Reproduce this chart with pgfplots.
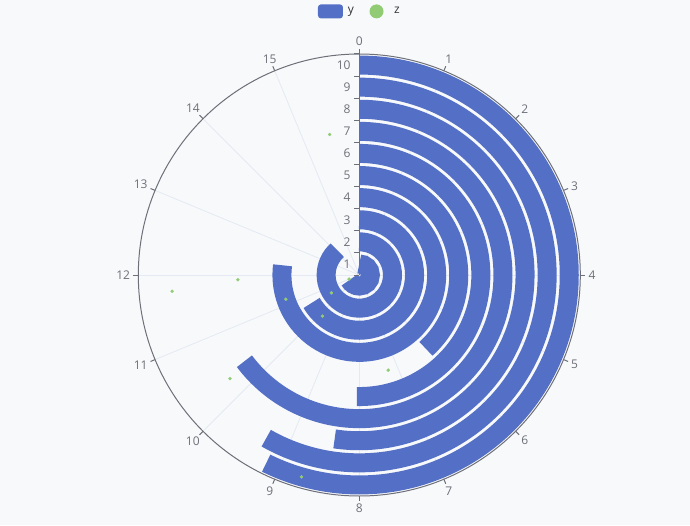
\documentclass[border=0pt]{standalone}
\usepackage{pgfplots}
\pgfplotsset{compat=1.18}
\usepackage{pgfplotstable}
\usepackage{fontspec}
\setmainfont{Open Sans}

\definecolor{barblue}{HTML}{5470C6}
\definecolor{dotgreen}{HTML}{91CC75}
\definecolor{axgray}{HTML}{6E7079}
\definecolor{gridc}{HTML}{E4E9F3}
\definecolor{bg}{HTML}{F8F9FA}
\definecolor{txt}{HTML}{333333}

% ring = radius category (1 innermost), y = end of the bar on the angle axis (0..16), z = scatter value
\pgfplotstableread{
ring y     z
1    10.80 11.05
2    14.15 10.55
3    10.65 9.86
4    12.32 11.19
5    6.13  7.25
6    8.05  11.90
7    10.36 15.47
8    8.38  10.28
9    9.32  11.78
10   9.17  8.71
}\polardata

\begin{document}
\begin{tikzpicture}[font=\fontsize{12}{14}\selectfont]
% 1pt = 1px of the reference, polar centre at the origin
\fill[bg] (-359.3pt,-250pt) rectangle (330.7pt,275pt);
\foreach \k in {0,...,15}{
  \pgfmathsetmacro\ang{90-22.5*\k}
  \pgfmathsetmacro\anc{270-22.5*\k}
  \draw[gridc, line width=0.8pt] (0,0) -- (\ang:221pt);
  \draw[axgray, line width=1pt] (\ang:221pt) -- (\ang:226pt);
  \node[text=axgray, inner sep=0pt, anchor=\anc] at (\ang:229pt) {\k};
}
\draw[axgray, line width=1pt] (0,0) circle[radius=221pt];

\begin{axis}[
  at={(0,0)}, anchor=origin,
  x=1pt, y=1pt,
  xmin=-359.3, xmax=330.7, ymin=-250, ymax=275,
  hide axis, clip=false,
  legend columns=2,
  legend style={at={(0.52,0.992)}, anchor=north, draw=none, fill=none,
    inner sep=0pt, font=\fontsize{12}{14}\selectfont, text=txt,
    nodes={inner sep=0pt},
    /tikz/every odd column/.append style={column sep=5pt},
    /tikz/every even column/.append style={column sep=10pt}},
]
\addlegendimage{legend image code/.code={\fill[barblue, draw=none, rounded corners=3pt] (0pt,-7pt) rectangle (25pt,7pt);}}
\addlegendentry{y}
\addlegendimage{legend image code/.code={\path[draw=none, fill=none] (0pt,-7pt) rectangle (25pt,7pt); \fill[dotgreen, draw=none] (12.5pt,0pt) circle[radius=7pt];}}
\addlegendentry{z}

% one polar bar per ring, drawn as a thick arc from 0 clockwise to y
\addplot[forget plot, scatter, only marks, mark=*, mark size=0.1pt,
  mark options={draw opacity=0, fill opacity=0},
  point meta=explicit,
  visualization depends on={\thisrow{ring}\as\ringno},
  visualization depends on={\thisrow{y}\as\yval},
  scatter/@pre marker code/.code={
    \pgfkeys{/pgf/fpu=true, /pgf/fpu/output format=fixed}
    \pgfmathparse{(\ringno-0.5)*22.1}\let\rmid\pgfmathresult
    \pgfmathparse{-22.5*\yval}\let\sweep\pgfmathresult
    \pgfkeys{/pgf/fpu=false}
    \draw[draw=barblue, draw opacity=1, line width=19pt, line cap=butt]
      (90:\rmid pt) arc[start angle=90, delta angle=\sweep, radius=\rmid pt];
  },
  scatter/@post marker code/.code={},
] table[x expr=0, y expr=0, meta=ring] {\polardata};

% scatter series z, placed at (ring, z) in polar coordinates
\addplot[forget plot, only marks, color=dotgreen, mark=*, mark size=1.5pt,
  mark options={solid, draw=dotgreen, fill=dotgreen, line width=0.4pt}]
  table[x expr={(\thisrow{ring}-0.5)*22.1*sin(22.5*\thisrow{z})},
        y expr={(\thisrow{ring}-0.5)*22.1*cos(22.5*\thisrow{z})}] {\polardata};
\end{axis}

% radius axis
\draw[axgray, line width=1pt] (0,0) -- (0,221pt);
\foreach \i in {0,...,10}
  \draw[axgray, line width=1pt] (0,{\i*22.1pt}) -- (-5pt,{\i*22.1pt});
\foreach \i in {1,...,10}
  \node[text=axgray, inner sep=0pt, anchor=east] at (-8.5pt,{(\i-0.5)*22.1pt}) {\i};
\end{tikzpicture}
\end{document}
